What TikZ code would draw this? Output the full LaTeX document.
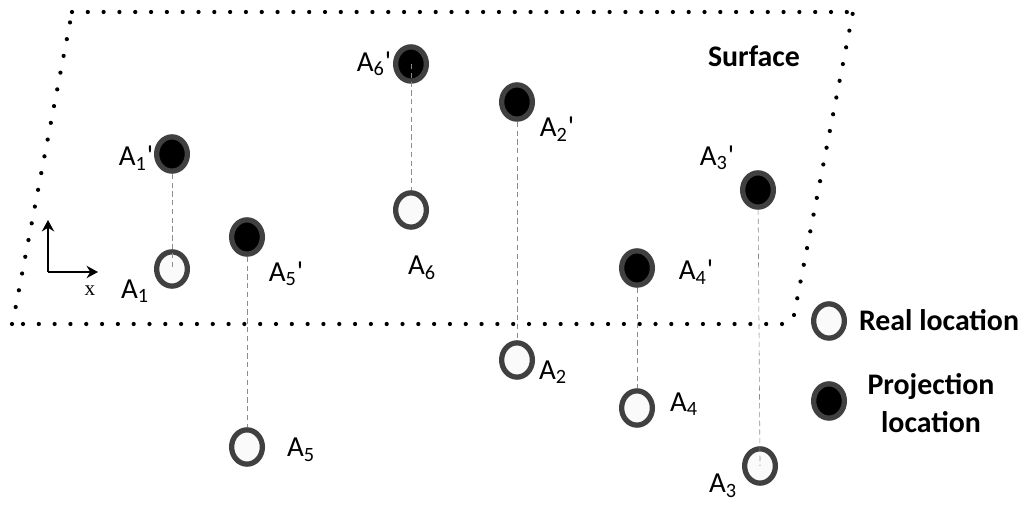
\documentclass[tikz,border=0pt]{standalone}
\usepackage{fontspec}
\setmainfont{Carlito}
\newfontfamily\axisfont{Liberation Serif}
\usetikzlibrary{shadows,shapes.geometric,arrows.meta}
\tikzset{
	realpt/.style={ellipse, draw=black!75, line width=3pt, fill=black!2, minimum width=17.5pt, minimum height=19.5pt, inner sep=0pt, drop shadow={opacity=0.18, shadow xshift=1.2pt, shadow yshift=-1.2pt}},
	projpt/.style={realpt, fill=black},
	tag/.style={font=\fontsize{16.5}{18}\selectfont, inner sep=0pt},
	boldtag/.style={font=\fontsize{17}{20}\selectfont\bfseries, inner sep=0pt},
	dropline/.style={densely dashed, draw=black!45, line width=0.35pt},
	edgedots/.style={line width=2.4pt, line cap=round, dash pattern=on 0pt off 9pt},
	sidedots/.style={edgedots, dash pattern=on 0pt off 9.7pt}
}
\begin{document}
\begin{tikzpicture}[x=0.02cm, y=0.02cm, >={Stealth[length=6.5pt,width=7pt]}]
	\useasboundingbox (0,0) rectangle (1024,507);
	%%%%%%%%%%%%%%%%%%%%%%%%%%%%%%%%%
	\coordinate (TL) at (72,495);
	\coordinate (TR) at (853,495);
	\coordinate (BR) at (786,183);
	\coordinate (BL) at (12,183);
	\coordinate (BLa) at (23,183);
	\coordinate (LE) at (15.7,200);
	\coordinate (RE) at (794,192);
	\coordinate (O) at (48,235);
	\coordinate (Y) at (48,287);
	\coordinate (X) at (98,235);
	%%%%%%%%%%%%%%%%%%%%%%%%%%%%%%%%%
	\draw[edgedots] (TL) -- (TR);
	\draw[sidedots] (RE) -- (TR);
	\draw[edgedots] (BLa) -- (BR);
	\draw[edgedots] (BL) -- (BLa);
	\draw[sidedots] (LE) -- (TL);
	%%%%%%%%%%%%%%%%%%%%%%%%%%%%%%%%%
	\draw[->, line width=1.2pt] (O) -- (Y);
	\draw[->, line width=1.2pt] (O) -- (X);
	\node[font=\fontsize{12}{12}\axisfont, inner sep=0pt] (xlabel) at (90,216) {x};
	%%%%%%%%%%%%%%%%%%%%%%%%%%%%%%%%%
	\node[projpt] (A1p) at (172,353) {};
	\node[realpt] (A1) at (172,238) {};
	\node[projpt] (A5p) at (247,270) {};
	\node[realpt] (A5) at (247,60) {};
	\node[projpt] (A6p) at (411,443) {};
	\node[realpt] (A6) at (411,297) {};
	\node[projpt] (A2p) at (517,405) {};
	\node[realpt] (A2) at (517,147) {};
	\node[projpt] (A3p) at (758,317) {};
	\node[realpt] (A3) at (760,41) {};
	\node[projpt] (A4p) at (637,239) {};
	\node[realpt] (A4) at (637,99) {};
	\node[realpt] (realkey) at (829,186) {};
	\node[projpt] (projkey) at (829,106) {};
	%%%%%%%%%%%%%%%%%%%%%%%%%%%%%%%%%
	\begin{scope}[dropline]
		\draw (A1p) -- (A1.center);
		\draw (A5p) -- (A5);
		\draw (A6p.center) -- (A6);
		\draw (A2p) -- (A2);
		\draw (A3p) -- (A3.center);
		\draw (A4p) -- (A4);
	\end{scope}
	%%%%%%%%%%%%%%%%%%%%%%%%%%%%%%%%%
	\node[tag] (A1ptag) at (136,349) {A\textsubscript{1}\textquotesingle};
	\node[tag] (A1tag) at (135,216) {A\textsubscript{1}};
	\node[tag] (A5ptag) at (286,233) {A\textsubscript{5}\textquotesingle};
	\node[tag] (A5tag) at (301,57) {A\textsubscript{5}};
	\node[tag] (A6ptag) at (374,443) {A\textsubscript{6}\textquotesingle};
	\node[tag] (A6tag) at (422,239) {A\textsubscript{6}};
	\node[tag] (A2ptag) at (557,378) {A\textsubscript{2}\textquotesingle};
	\node[tag] (A2tag) at (553,135) {A\textsubscript{2}};
	\node[tag] (A3ptag) at (717,349) {A\textsubscript{3}\textquotesingle};
	\node[tag] (A3tag) at (723,21) {A\textsubscript{3}};
	\node[tag] (A4ptag) at (696,235) {A\textsubscript{4}\textquotesingle};
	\node[tag] (A4tag) at (684,103) {A\textsubscript{4}};
	%%%%%%%%%%%%%%%%%%%%%%%%%%%%%%%%%
	\node[boldtag] (surface) at (754,451) {Surface};
	\node[boldtag] (realtext) at (939,187) {Real location};
	\node[boldtag, align=center, font=\fontsize{17}{21.5}\selectfont\bfseries] (projtext) at (931,104) {Projection\\location};
\end{tikzpicture}
\end{document}
